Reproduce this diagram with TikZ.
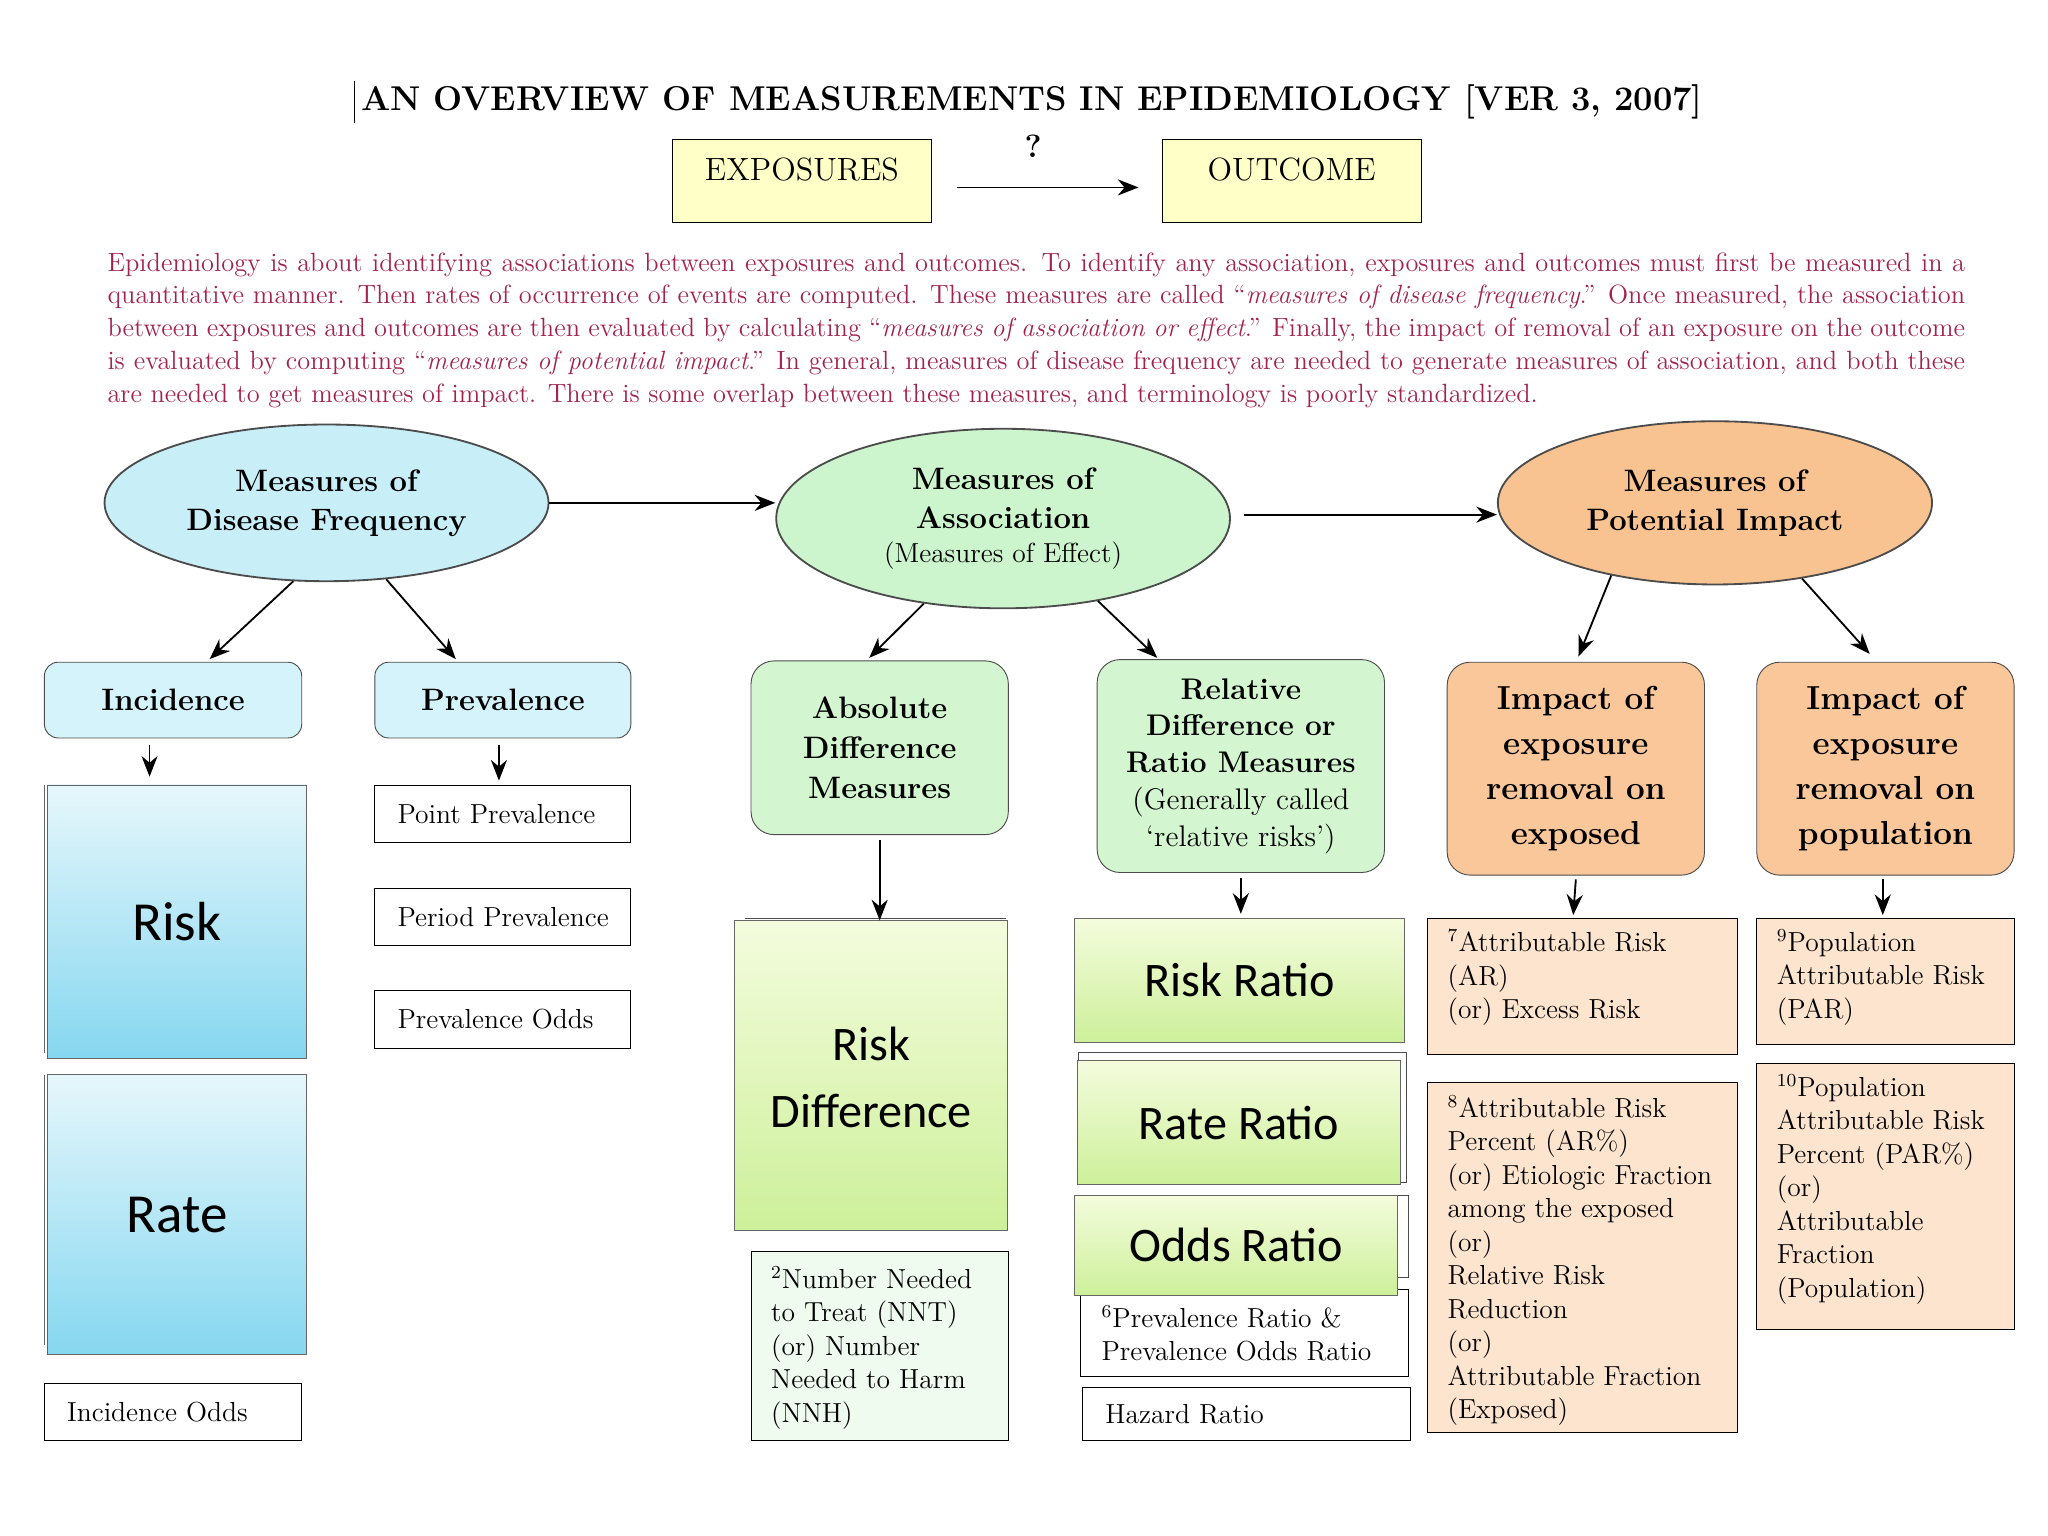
\documentclass[tikz,border=0pt]{standalone}
\usepackage{fontspec}
\setmainfont{Latin Modern Roman}
\newfontfamily\calfam{Carlito}
\usetikzlibrary{shapes.geometric,arrows.meta,calc}
\definecolor{para}{HTML}{A3234F}
\definecolor{eblue}{HTML}{C8EEF8}
\definecolor{egreen}{HTML}{CDF5CD}
\definecolor{eorange}{HTML}{F8C390}
\definecolor{bblue}{HTML}{D5F3FA}
\definecolor{bgreen}{HTML}{D3F5D0}
\definecolor{borange}{HTML}{F9C79A}
\definecolor{lorange}{HTML}{FCE4CE}
\definecolor{lgreen}{HTML}{EEFBEE}
\definecolor{ylw}{HTML}{FFFFC8}
\definecolor{gtop}{HTML}{E6F7FB}
\definecolor{gbot}{HTML}{86D7F0}
\definecolor{ggtop}{HTML}{F4FCDD}
\definecolor{ggbot}{HTML}{CDF09A}
\newcommand\bx[7]{\node[#6, minimum width={(#4-#2)*0.02cm}, minimum height={(#5-#3)*0.02cm}] (#1) at ({(#2+#4)/2},{(#3+#5)/2}) {#7};}
\tikzset{
 ell/.style={ellipse,draw=black!70,thick,align=center,font=\fontsize{13.5}{17}\selectfont\bfseries,inner sep=0pt},
 rbox/.style={draw=black!70,rounded corners=10pt,align=center,font=\fontsize{13.5}{17.5}\selectfont\bfseries,inner sep=0pt},
 sbox/.style={draw=black,fill=white,inner sep=0pt,font=\fontsize{12}{15}\selectfont},
 tbox/.style={draw=black,inner sep=0pt},
 ttext/.style={anchor=north west,align=left,font=\fontsize{12}{14.6}\selectfont,inner sep=0pt},
 big/.style={inner sep=0pt,align=center,font=\calfam\fontsize{21}{28}\selectfont},
 bluegrad/.style={draw=black!60,top color=gtop,bottom color=gbot,inner sep=0pt},
 greengrad/.style={draw=black!60,top color=ggtop,bottom color=ggbot,inner sep=0pt},
 arr/.style={-{Stealth[length=9pt,width=7pt]},thick}
}
\begin{document}
\begin{tikzpicture}[x=0.02cm,y=-0.02cm]
\useasboundingbox (0,0) rectangle (1568,1176);
\node[font=\fontsize{15}{17}\selectfont\bfseries] (title) at (790,78) {AN OVERVIEW OF MEASUREMENTS IN EPIDEMIOLOGY [VER 3, 2007]};
\draw (271,62) -- (271,94);
\bx{exp}{515}{107}{713}{170}{draw,fill=ylw}{}
\node[font=\fontsize{14}{16}\selectfont] at (614,130) {EXPOSURES};
\bx{out}{890}{107}{1088}{170}{draw,fill=ylw}{}
\node[font=\fontsize{14}{16}\selectfont] at (989,130) {OUTCOME};
\draw[arr] ($(exp.east)+(19,5)$) -- ($(out.west)+(-18,5)$);
\node[font=\fontsize{14}{16}\selectfont\bfseries] (q) at (791,112) {?};
\node[anchor=north west,text width=28.45cm,align=justify,text=para,inner sep=0pt,font=\fontsize{11.5}{14.3}\selectfont] (par) at (82,193) {Epidemiology is about identifying associations between exposures and outcomes. To identify any association, exposures and outcomes must first be measured in a quantitative manner. Then rates of occurrence of events are computed. These measures are called ``\textit{measures of disease frequency}.'' Once measured, the association between exposures and outcomes are then evaluated by calculating ``\textit{measures of association or effect}.'' Finally, the impact of removal of an exposure on the outcome is evaluated by computing ``\textit{measures of potential impact}.'' In general, measures of disease frequency are needed to generate measures of association, and both these are needed to get measures of impact. There is some overlap between these measures, and terminology is poorly standardized.};
% ellipses
\node[ell,fill=eblue,minimum width=6.8cm,minimum height=2.4cm] (e1) at (250,385) {Measures of\\Disease Frequency};
\node[ell,fill=egreen,minimum width=6.95cm,minimum height=2.75cm] (e2) at (768,397) {Measures of\\Association\\[-2pt]{\mdseries\fontsize{12}{14}\selectfont(Measures of Effect)}};
\node[ell,fill=eorange,minimum width=6.65cm,minimum height=2.5cm] (e3) at (1313,385) {Measures of\\Potential Impact};
\draw[arr] (e1.east) -- (e1.east -| e2.west);
\draw[arr] ($(e2.east)+(10,-3)$) -- ($(e3.west)+(0,9)$);
% first column
\bx{inc}{34}{507}{231}{565}{rbox,rounded corners=6pt,fill=bblue}{Incidence}
\bx{prev}{287}{507}{483}{565}{rbox,rounded corners=6pt,fill=bblue}{Prevalence}
\draw[arr] (e1.-113) -- ($(inc.north)+(28,-2)$);
\draw[arr] (e1.-52) -- ($(prev.north)+(-36,-2)$);
\bx{risk}{36}{601}{235}{810}{bluegrad}{}
\node[big] at (risk) {\fontsize{24}{28}\selectfont Risk};
\bx{rate}{36}{823}{235}{1037}{bluegrad}{}
\node[big] at (rate) {\fontsize{24}{28}\selectfont Rate};
\draw[black!60] (34,601) -- (34,806) (34,823)--(34,1030);
\bx{io}{34}{1059}{231}{1103}{sbox}{}
\node[ttext,anchor=west] at (51,1081) {Incidence Odds};
\draw[arr] ($(inc.south)+(-18,5)$) -- ($(risk.north)+(-21,-6)$);
\bx{pp}{287}{601}{483}{645}{sbox}{}
\node[ttext,anchor=west] at (304,623) {Point Prevalence};
\bx{pe}{287}{680}{483}{724}{sbox}{}
\node[ttext,anchor=west] at (304,702) {Period Prevalence};
\bx{po}{287}{758}{483}{803}{sbox}{}
\node[ttext,anchor=west] at (304,780) {Prevalence Odds};
\draw[arr] ($(prev.south)+(-3,5)$) -- ($(pp.north)+(-3,-3)$);
% second group
\bx{abs}{575}{506}{772}{639}{rbox,fill=bgreen}{Absolute\\Difference\\Measures}
\bx{rel}{840}{505}{1060}{668}{rbox,fill=bgreen,font=\fontsize{13}{16}\selectfont}{\textbf{Relative}\\\textbf{Difference or}\\\textbf{Ratio Measures}\\(Generally called\\`relative risks')}
\draw[arr] (e2.-133) -- ($(abs.north)+(-8,-2)$);
\draw[arr] (e2.-41) -- ($(rel.north)+(-64,-1)$);
\bx{rd}{562}{705}{771}{942}{greengrad}{}
\draw[black!70] (570,703)--(770,703);
\node[big,font=\calfam\fontsize{21}{29}\selectfont] at (667,825) {Risk\\Difference};
\coordinate (absb) at ($(abs.south)+(0,4)$);
\draw[arr] (absb) -- (absb |- rd.north);
\bx{nnt}{575}{958}{772}{1103}{sbox,fill=lgreen}{}
\node[ttext] at (590,969) {\textsuperscript{2}Number Needed\\to Treat (NNT)\\(or) Number\\Needed to Harm\\(NNH)};
\bx{prr}{827}{987}{1078}{1054}{sbox}{}
\node[ttext] at (843,999) {\textsuperscript{6}Prevalence Ratio \&\\Prevalence Odds Ratio};
\bx{hz}{829}{1062}{1080}{1103}{sbox}{}
\node[ttext,anchor=west] at (846,1083) {Hazard Ratio};
\draw[black!70] (826,806) rectangle (1077,905);
\draw[black!70] (1070,915) -- (1078,915) -- (1078,978) -- (1070,978);
\bx{rr}{823}{703}{1075}{798}{greengrad}{}
\node[big] at (rr) {Risk Ratio};
\bx{rtr}{825}{812}{1072}{907}{greengrad}{}
\node[big] at (rtr) {Rate Ratio};
\bx{or}{823}{915}{1070}{992}{greengrad}{}
\node[big] at (or) {Odds Ratio};
\draw[arr] ($(rel.south)+(0,4)$) -- ($(rr.north)+(1,-3)$);
% third group
\bx{imp1}{1108}{507}{1305}{670}{rbox,fill=borange,font=\fontsize{14.5}{19.5}\selectfont\bfseries}{Impact of\\exposure\\removal on\\exposed}
\bx{imp2}{1345}{507}{1542}{670}{rbox,fill=borange,font=\fontsize{14.5}{19.5}\selectfont\bfseries}{Impact of\\exposure\\removal on\\population}
\draw[arr] (e3.-145) -- ($(imp1.north)+(2,-4)$);
\draw[arr] (e3.-41) -- ($(imp2.north)+(-12,-6)$);
\bx{ar}{1093}{703}{1330}{807}{tbox,fill=lorange}{}
\node[ttext] at (1108,711) {\textsuperscript{7}Attributable Risk\\(AR)\\(or) Excess Risk};
\bx{arp}{1093}{829}{1330}{1097}{tbox,fill=lorange}{}
\node[ttext] at (1108,838) {\textsuperscript{8}Attributable Risk\\Percent (AR\%)\\(or) Etiologic Fraction\\among the exposed\\(or)\\Relative Risk\\Reduction\\(or)\\Attributable Fraction\\(Exposed)};
\bx{par}{1345}{703}{1542}{800}{tbox,fill=lorange}{}
\node[ttext] at (1360,711) {\textsuperscript{9}Population\\Attributable Risk\\(PAR)};
\bx{parp}{1345}{814}{1542}{1018}{tbox,fill=lorange}{}
\node[ttext] at (1360,822) {\textsuperscript{10}Population\\Attributable Risk\\Percent (PAR\%)\\(or)\\Attributable\\Fraction\\(Population)};
\draw[arr] ($(imp1.south)+(0,3)$) -- ($(ar.north)+(-7,-2)$);
\draw[arr] ($(imp2.south)+(-2,3)$) -- ($(par.north)+(-2,-2)$);
\end{tikzpicture}
\end{document}
